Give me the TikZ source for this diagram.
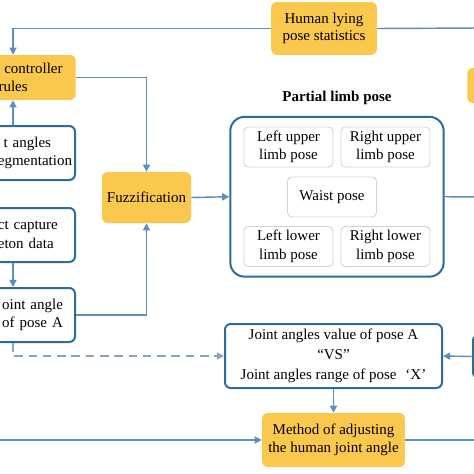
\documentclass[tikz,border=0pt]{standalone}
\usepackage{fontspec}
\setmainfont{Liberation Serif}
\usetikzlibrary{arrows.meta,positioning,fit}
\definecolor{linec}{HTML}{5B8EC2}
\definecolor{edgec}{HTML}{2D6D9C}
\definecolor{ylw}{HTML}{F9C84C}
\definecolor{greyc}{HTML}{D2D2D2}
\definecolor{dashc}{HTML}{8AA4C0}

\begin{document}
\begin{tikzpicture}[x=0.7pt,y=-0.7pt,
 txt/.style={font=\fontsize{10.5}{13}\selectfont,align=center,inner sep=2pt},
 box/.style={txt,draw=edgec,line width=1.4pt,rounded corners=4pt,fill=white},
 ybox/.style={txt,fill=ylw,rounded corners=4pt},
 cutbox/.style={align=left,text width=52pt,anchor=east,minimum height=37.8pt},
 pbox/.style={txt,draw=greyc,line width=0.6pt,rounded corners=3pt,
 minimum width=62.3pt,minimum height=28pt},
 conn/.style={draw=linec,line width=1pt},
 >={Triangle[length=5pt,width=5pt]}]
\path[fill=white] (0,0) rectangle (474,474);
\clip (0,0) rectangle (474,474);
\coordinate (lx) at (13,0);
\coordinate (topR) at (480,28);
\coordinate (limbR) at (480,197);
\coordinate (inL) at (-6,440);
\coordinate (outR) at (480,440);
% left column (cut at the border)
\node[ybox,cutbox,minimum height=31.5pt] (rules) at (76,77.5) {\hspace*{4pt}controller\\rules};
\node[box,cutbox] (seg) at (76,153) {\hspace*{4pt}t angles\\egmentation};
\node[box,cutbox] (kinect) at (76,235) {ct capture\\eton data};
\node[box,cutbox] (angleA) at (76,315) {\hspace*{3pt}oint angle\\\hspace*{3pt}of pose A};
% middle and right
\node[ybox,minimum width=74pt,minimum height=37pt,font=\fontsize{10.5}{12}\selectfont] (stats) at (324,28.5) {Human lying\\pose statistics};
\node[ybox,minimum width=62.3pt,minimum height=35.7pt] (fuzz) at (146.5,197.5) {Fuzzification};
\node[pbox] (lu) at (288.5,147) {Left upper\\limb pose};
\node[pbox] (ru) at (385.5,147) {Right upper\\limb pose};
\node[pbox] (waist) at (332,197) {Waist pose};
\node[pbox] (ll) at (288.5,246.5) {Left lower\\limb pose};
\node[pbox] (rl) at (385.5,246.5) {Right lower\\limb pose};
\node[draw=edgec,line width=1.4pt,rounded corners=10pt,fit=(lu)(rl),
 inner xsep=9.3pt,inner ysep=6.8pt] (limb) {};
\node[txt,font=\fontsize{10.5}{13}\selectfont\bfseries] (title) at (337,98) {Partial limb pose};
\node[box,minimum width=151.9pt,minimum height=44.8pt,font=\fontsize{10.5}{14}\selectfont] (cmp) at (333.5,356)
 {Joint angles value of pose A\\“VS”\\Joint angles range of pose\hspace{0.6em}‘X’};
\node[ybox,minimum width=100pt,minimum height=37.8pt] (method) at (333.5,440) {Method of adjusting\\the human joint angle};
\node[ybox,anchor=west,minimum width=40pt,minimum height=24.5pt] (sideY) at (467,85.5) {};
\node[box,anchor=west,minimum width=40pt,minimum height=30pt] (sideB) at (472,356.5) {};
% connectors
\draw[conn] (topR) -- (stats.east);
\draw[conn,->] (stats.west) -| (rules.north -| lx);
\draw[conn,->] (seg.north -| lx) -- (rules.south -| lx);
\draw[conn,->] (kinect.south -| lx) -- (angleA.north -| lx);
\draw[conn,->] (rules.east) -| (fuzz.north);
\draw[conn,->] (angleA.east) -| (fuzz.south);
\draw[conn,->] (fuzz.east) -- (limb.west);
\draw[conn] (limb.east) -- (limbR);
\draw[conn,draw=dashc,dash pattern=on 6pt off 4pt,->] (angleA.south -| lx) |- (cmp.west);
\draw[conn,->] (sideB.west) -- (cmp.east);
\draw[conn,->] (cmp.south) -- (method.north);
\draw[conn,->] (inL) -- (method.west);
\draw[conn] (method.east) -- (outR);
\end{tikzpicture}
\end{document}
